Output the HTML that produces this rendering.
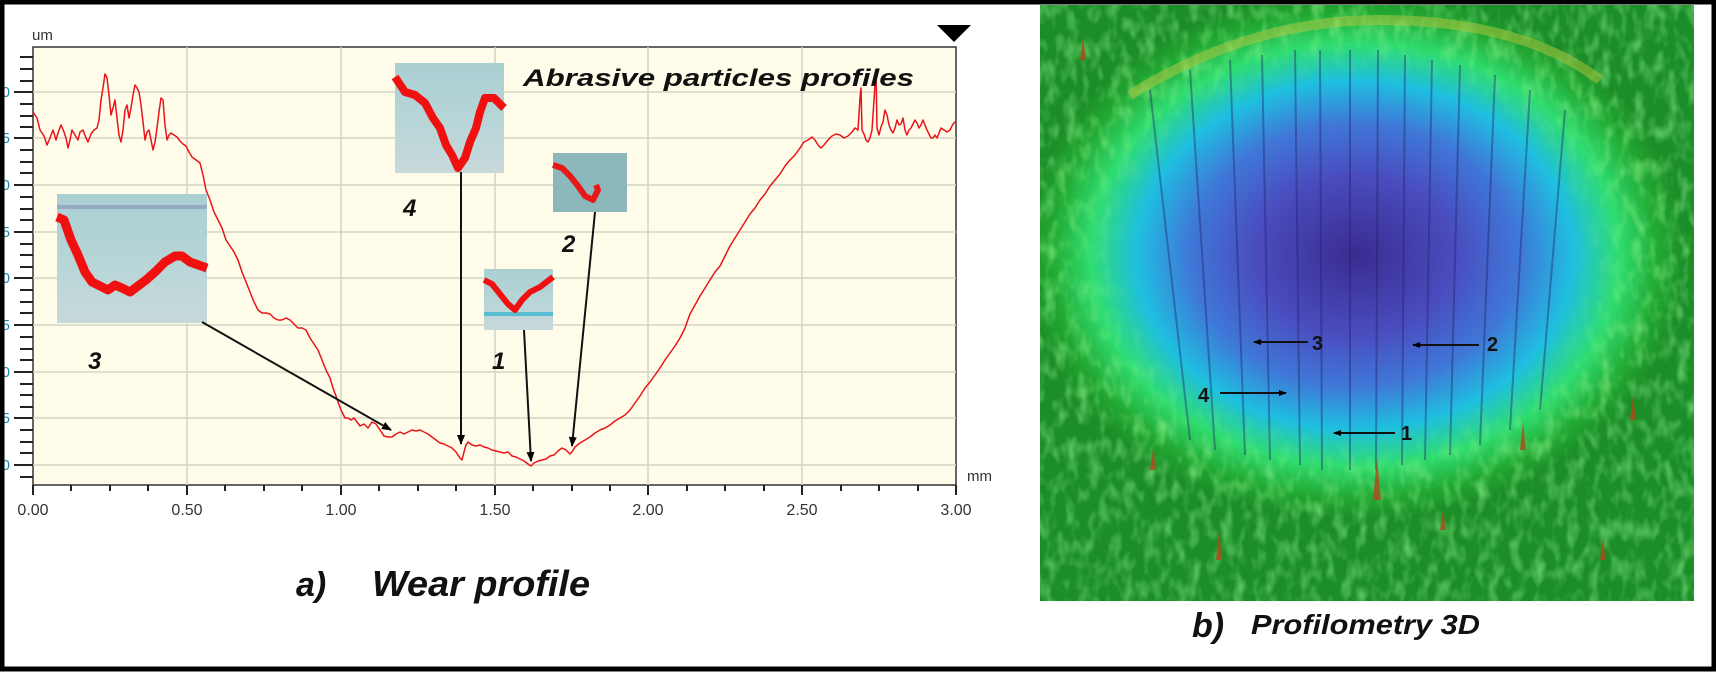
<!DOCTYPE html>
<html><head><meta charset="utf-8"><style>
html,body{margin:0;padding:0;background:#fff}
svg{display:block}
</style></head><body>
<svg width="1716" height="673" viewBox="0 0 1716 673" xmlns="http://www.w3.org/2000/svg" font-family="Liberation Sans, Arial, sans-serif">
<defs>
<radialGradient id="crater" cx="1355" cy="255" r="330" gradientUnits="userSpaceOnUse" gradientTransform="translate(1355 255) scale(1 0.8) translate(-1355 -255)">
<stop offset="0" stop-color="#3a2c90"/>
<stop offset="0.3" stop-color="#4a4cbe"/>
<stop offset="0.5" stop-color="#3f78d8"/>
<stop offset="0.66" stop-color="#1fbfe0"/>
<stop offset="0.8" stop-color="#2fdc70"/>
<stop offset="0.92" stop-color="#22a832"/>
<stop offset="1" stop-color="#1c8e28"/>
</radialGradient>
<filter id="noise" x="0" y="0" width="100%" height="100%">
<feTurbulence type="fractalNoise" baseFrequency="0.09 0.05" numOctaves="2" seed="3"/>
<feColorMatrix values="0 0 0 0 0.3  0 0 0 0 0.95  0 0 0 0 0.3  0 0 0 -2.2 1.25"/>
</filter>
<clipPath id="pc"><rect x="1040" y="5" width="654" height="596"/></clipPath>
<radialGradient id="mask" cx="1355" cy="255" r="320" gradientUnits="userSpaceOnUse" gradientTransform="translate(1355 255) scale(1 0.8) translate(-1355 -255)">
<stop offset="0.7" stop-color="#fff" stop-opacity="0"/>
<stop offset="0.9" stop-color="#fff" stop-opacity="1"/>
</radialGradient>
<mask id="m1"><rect x="1040" y="5" width="654" height="596" fill="url(#mask)"/></mask>
<marker id="ah" markerWidth="10" markerHeight="10" refX="9" refY="5" orient="auto" markerUnits="userSpaceOnUse"><path d="M0,1 L10,5 L0,9 Z" fill="#000"/></marker>
<marker id="ah2" markerWidth="8" markerHeight="8" refX="7" refY="4" orient="auto" markerUnits="userSpaceOnUse"><path d="M0,1 L8,4 L0,7 Z" fill="#000"/></marker>
<linearGradient id="ins" x1="0" y1="0" x2="0" y2="1"><stop offset="0" stop-color="#a9cfd2"/><stop offset="0.6" stop-color="#b9d6d8"/><stop offset="1" stop-color="#c8d8da"/></linearGradient>
</defs>
<rect width="1716" height="673" fill="#fff"/>
<rect x="33" y="47" width="923" height="438" fill="#fffdea" stroke="#333" stroke-width="1.5"/>
<g stroke="#d4d4c4" stroke-width="1.5">
<line x1="187" y1="47" x2="187" y2="485"/><line x1="341" y1="47" x2="341" y2="485"/><line x1="495" y1="47" x2="495" y2="485"/><line x1="648" y1="47" x2="648" y2="485"/><line x1="802" y1="47" x2="802" y2="485"/>
<line x1="33" y1="92" x2="956" y2="92"/><line x1="33" y1="138" x2="956" y2="138"/><line x1="33" y1="185" x2="956" y2="185"/><line x1="33" y1="232" x2="956" y2="232"/><line x1="33" y1="278" x2="956" y2="278"/><line x1="33" y1="325" x2="956" y2="325"/><line x1="33" y1="372" x2="956" y2="372"/><line x1="33" y1="418" x2="956" y2="418"/><line x1="33" y1="465" x2="956" y2="465"/>
</g>
<g stroke="#222" stroke-width="2">
<path d="M20,57H33M20,69H33M20,81H33M14,92H33M20,104H33M20,116H33M20,127H33M14,138H33M20,150H33M20,162H33M20,173H33M14,185H33M20,197H33M20,209H33M20,220H33M14,232H33M20,244H33M20,255H33M20,267H33M14,278H33M20,290H33M20,302H33M20,313H33M14,325H33M20,337H33M20,349H33M20,360H33M14,372H33M20,384H33M20,395H33M20,407H33M14,418H33M20,430H33M20,442H33M20,453H33M14,465H33M20,477H33"/>
<path d="M33,485v10M71,485v6M110,485v6M148,485v6M187,485v10M225,485v6M264,485v6M302,485v6M341,485v10M379,485v6M418,485v6M456,485v6M495,485v10M533,485v6M572,485v6M610,485v6M648,485v10M687,485v6M725,485v6M764,485v6M802,485v10M841,485v6M879,485v6M918,485v6M956,485v10"/>
</g>
<g font-size="15" fill="#1a8ab0" text-anchor="end">
<text x="10" y="97">0</text><text x="10" y="143">5</text><text x="10" y="190">0</text><text x="10" y="237">5</text><text x="10" y="283">0</text><text x="10" y="330">5</text><text x="10" y="377">0</text><text x="10" y="423">5</text><text x="10" y="470">0</text>
</g>
<g font-size="16" fill="#333" text-anchor="middle">
<text x="33" y="515">0.00</text><text x="187" y="515">0.50</text><text x="341" y="515">1.00</text><text x="495" y="515">1.50</text><text x="648" y="515">2.00</text><text x="802" y="515">2.50</text><text x="956" y="515">3.00</text>
</g>
<text x="32" y="40" font-size="15" fill="#333">um</text>
<text x="967" y="481" font-size="15" fill="#333">mm</text>
<path d="M937,25 L971,25 L954,42 Z" fill="#000"/>
<polyline fill="none" stroke="#e8141a" stroke-width="1.5" stroke-linejoin="round" points="33,112 37,118 40,130 44,136 47,145 50,138 53,130 56,140 58,133 61,125 64,132 66,138 68,148 70,140 72,130 75,135 78,140 80,132 83,130 86,138 88,142 91,134 94,130 97,128 99,120 101,100 103,88 105,74 107,78 109,95 111,115 113,108 115,100 117,118 119,135 121,142 123,130 125,110 127,105 129,118 131,108 133,95 135,85 137,88 139,92 141,105 143,122 145,140 147,132 149,130 151,140 153,150 155,142 157,128 159,112 161,98 163,100 165,125 167,140 169,135 171,133 174,135 177,137 180,141 183,144 186,146 189,152 192,157 196,160 200,163 203,175 206,190 210,200 214,212 218,220 222,228 226,240 230,246 234,252 238,260 242,272 246,282 250,292 254,302 258,310 262,313 266,313 270,314 274,318 278,320 282,320 286,318 290,320 294,324 298,328 302,328 306,330 310,338 314,344 318,350 322,360 326,370 330,378 333,388 336,396 339,405 342,412 345,418 348,418 351,420 354,418 357,422 360,426 364,424 368,428 372,422 376,424 380,430 384,436 388,437 392,437 396,434 400,432 404,434 408,432 412,430 416,431 420,430 424,432 428,434 432,437 436,440 440,443 444,444 448,446 452,448 456,452 460,458 462,460 464,452 466,445 468,442 472,445 476,446 480,445 484,447 488,448 492,450 496,451 500,452 504,453 508,452 512,456 516,457 520,459 524,461 528,464 531,466 534,463 538,461 542,460 546,459 550,456 554,455 558,451 562,448 566,450 570,454 572,452 575,447 580,443 585,440 590,437 595,433 600,430 605,428 610,425 615,421 620,418 625,415 630,410 635,403 640,396 645,388 650,382 655,375 660,368 665,360 670,353 675,346 680,338 685,328 690,314 695,305 700,296 705,288 710,280 715,272 720,266 725,256 730,246 735,238 740,230 745,222 750,214 755,208 760,200 765,194 770,186 775,180 780,174 785,166 790,160 795,155 800,148 804,142 808,140 812,137 815,140 818,145 821,148 824,145 828,140 832,136 836,134 840,135 844,138 848,136 852,132 855,128 858,130 860,98 861,88 862,130 864,134 866,140 868,142 870,138 872,130 874,100 876,70 877,128 879,135 881,127 883,122 885,110 887,115 889,125 891,130 893,133 895,128 897,120 899,125 901,124 903,118 905,130 907,135 909,130 911,128 913,124 915,120 917,123 919,128 921,125 923,120 925,125 927,130 929,134 931,138 933,138 935,135 937,138 939,133 941,128 944,130 947,132 950,130 953,124 956,121"/>
<g>
<rect x="57" y="194" width="150" height="129" fill="url(#ins)"/>
<rect x="57" y="205" width="150" height="4" fill="#8a9ab8" opacity="0.7"/>
<polyline points="57,217 64,220 71,240 78,255 85,272 92,282 100,286 108,290 115,285 122,288 130,292 138,286 146,280 155,272 165,262 175,256 182,256 190,262 207,268" fill="none" stroke="#f01010" stroke-width="9" stroke-linejoin="round"/>
<rect x="395" y="63" width="109" height="110" fill="url(#ins)"/>
<polyline points="395,77 405,92 415,95 425,103 433,118 440,128 446,145 452,155 458,168 465,158 470,142 476,128 480,112 485,98 494,98 504,108" fill="none" stroke="#f01010" stroke-width="8" stroke-linejoin="round"/>
<rect x="484" y="269" width="69" height="61" fill="url(#ins)"/>
<rect x="484" y="312" width="69" height="4" fill="#40b8d0" opacity="0.8"/>
<polyline points="484,280 492,284 500,294 508,304 515,310 522,300 530,292 540,287 553,277" fill="none" stroke="#f01010" stroke-width="6" stroke-linejoin="round"/>
<rect x="553" y="153" width="74" height="59" fill="#8cb8bc"/>
<polyline points="553,165 562,168 570,176 578,186 585,196 593,200 598,190 596,185 M606,173 612,169 618,167 627,162" fill="none" stroke="#e81818" stroke-width="6" stroke-linejoin="round"/>
</g>
<g font-weight="bold" font-style="italic" fill="#111" font-size="24">
<text x="523" y="86" textLength="391" lengthAdjust="spacingAndGlyphs">Abrasive particles profiles</text>
<text x="403" y="216">4</text><text x="88" y="369">3</text><text x="492" y="369">1</text><text x="562" y="252">2</text>
</g>
<g stroke="#111" stroke-width="2" fill="none">
<line x1="202" y1="322" x2="391" y2="430" marker-end="url(#ah)"/>
<line x1="461" y1="172" x2="461" y2="444" marker-end="url(#ah)"/>
<line x1="524" y1="330" x2="531" y2="461" marker-end="url(#ah)"/>
<line x1="595" y1="212" x2="572" y2="446" marker-end="url(#ah)"/>
</g>
<text x="296" y="596" font-size="34" font-weight="bold" font-style="italic" fill="#111">a)</text>
<text x="372" y="596" font-size="36" font-weight="bold" font-style="italic" fill="#111" textLength="218" lengthAdjust="spacingAndGlyphs">Wear profile</text>
<g clip-path="url(#pc)">
<rect x="1040" y="5" width="654" height="596" fill="url(#crater)"/>
<g opacity="0.55">
<rect x="1040" y="5" width="654" height="596" filter="url(#noise)" mask="url(#m1)"/>
</g>
<path d="M1130,95 Q1250,20 1380,20 Q1520,20 1600,80" fill="none" stroke="#b8c840" stroke-width="10" opacity="0.5"/>
<g stroke="#20206a" stroke-width="2" opacity="0.4">
<line x1="1150" y1="90" x2="1190" y2="440"/><line x1="1190" y1="70" x2="1215" y2="450"/><line x1="1230" y1="60" x2="1245" y2="455"/><line x1="1262" y1="55" x2="1270" y2="460"/><line x1="1295" y1="50" x2="1300" y2="465"/><line x1="1320" y1="50" x2="1322" y2="470"/><line x1="1350" y1="50" x2="1350" y2="470"/><line x1="1378" y1="50" x2="1376" y2="470"/><line x1="1405" y1="55" x2="1402" y2="465"/><line x1="1432" y1="60" x2="1425" y2="460"/><line x1="1460" y1="65" x2="1450" y2="455"/><line x1="1495" y1="75" x2="1480" y2="445"/><line x1="1530" y1="90" x2="1510" y2="430"/><line x1="1565" y1="110" x2="1540" y2="410"/>
</g>
<g fill="#b04818" opacity="0.8">
<path d="M1373,500 l4,-42 l4,42 z"/><path d="M1216,560 l3,-30 l3,30 z"/><path d="M1520,450 l3,-28 l3,28 z"/><path d="M1630,420 l3,-25 l3,25 z"/><path d="M1080,60 l3,-22 l3,22 z"/><path d="M1150,470 l3,-22 l3,22 z"/><path d="M1440,530 l3,-20 l3,20 z"/><path d="M1600,560 l3,-22 l3,22 z"/>
</g>
</g>
<g font-weight="bold" fill="#111" font-size="20">
<text x="1312" y="350">3</text><text x="1487" y="351">2</text><text x="1198" y="402">4</text><text x="1401" y="440">1</text>
</g>
<g stroke="#111" stroke-width="2">
<line x1="1308" y1="342" x2="1254" y2="342" marker-end="url(#ah2)"/>
<line x1="1479" y1="345" x2="1413" y2="345" marker-end="url(#ah2)"/>
<line x1="1220" y1="393" x2="1286" y2="393" marker-end="url(#ah2)"/>
<line x1="1395" y1="433" x2="1334" y2="433" marker-end="url(#ah2)"/>
</g>
<text x="1192" y="637" font-size="34" font-weight="bold" font-style="italic" fill="#111">b)</text>
<text x="1251" y="634" font-size="28" font-weight="bold" font-style="italic" fill="#111" textLength="229" lengthAdjust="spacingAndGlyphs">Profilometry 3D</text>
<rect x="2" y="2" width="1712" height="667" fill="none" stroke="#000" stroke-width="5"/>
</svg>
</body></html>
